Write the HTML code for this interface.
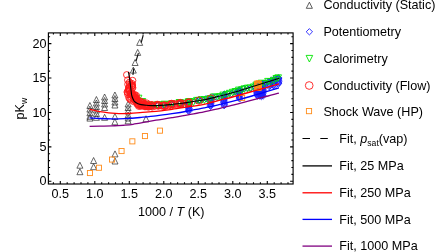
<!DOCTYPE html>
<html><head><meta charset="utf-8"><title>pKw</title>
<style>
html,body{margin:0;padding:0;background:#fff;}
body{width:448px;height:252px;overflow:hidden;}
svg{display:block;}
text{font-family:"Liberation Sans",Arial,sans-serif;font-size:12.6px;fill:#000;}
</style></head><body>
<svg width="448" height="252" viewBox="0 0 448 252">
<rect width="448" height="252" fill="#fff"/>

<g id="static">
<path d="M89.9 102.5 L92.9 108.5 L86.9 108.5 Z" fill="none" stroke="#222" stroke-width="0.68"/>
<path d="M89.9 106.1 L92.9 112.1 L86.9 112.1 Z" fill="none" stroke="#222" stroke-width="0.68"/>
<path d="M89.9 109.8 L92.9 115.8 L86.9 115.8 Z" fill="none" stroke="#222" stroke-width="0.68"/>
<path d="M89.9 113.3 L92.9 119.3 L86.9 119.3 Z" fill="none" stroke="#222" stroke-width="0.68"/>
<path d="M89.9 115.1 L92.9 121.1 L86.9 121.1 Z" fill="none" stroke="#222" stroke-width="0.68"/>
<path d="M96.4 96.5 L99.4 102.5 L93.4 102.5 Z" fill="none" stroke="#222" stroke-width="0.68"/>
<path d="M96.4 100.0 L99.4 106.0 L93.4 106.0 Z" fill="none" stroke="#222" stroke-width="0.68"/>
<path d="M96.4 103.5 L99.4 109.5 L93.4 109.5 Z" fill="none" stroke="#222" stroke-width="0.68"/>
<path d="M96.4 107.0 L99.4 113.0 L93.4 113.0 Z" fill="none" stroke="#222" stroke-width="0.68"/>
<path d="M96.4 110.5 L99.4 116.5 L93.4 116.5 Z" fill="none" stroke="#222" stroke-width="0.68"/>
<path d="M96.4 114.3 L99.4 120.3 L93.4 120.3 Z" fill="none" stroke="#222" stroke-width="0.68"/>
<path d="M104.6 94.0 L107.6 100.0 L101.6 100.0 Z" fill="none" stroke="#222" stroke-width="0.68"/>
<path d="M104.6 97.5 L107.6 103.5 L101.6 103.5 Z" fill="none" stroke="#222" stroke-width="0.68"/>
<path d="M104.6 101.0 L107.6 107.0 L101.6 107.0 Z" fill="none" stroke="#222" stroke-width="0.68"/>
<path d="M104.6 104.5 L107.6 110.5 L101.6 110.5 Z" fill="none" stroke="#222" stroke-width="0.68"/>
<path d="M104.6 114.3 L107.6 120.3 L101.6 120.3 Z" fill="none" stroke="#222" stroke-width="0.68"/>
<path d="M114.9 92.0 L117.9 98.0 L111.9 98.0 Z" fill="none" stroke="#222" stroke-width="0.68"/>
<path d="M114.9 95.5 L117.9 101.5 L111.9 101.5 Z" fill="none" stroke="#222" stroke-width="0.68"/>
<path d="M114.9 99.0 L117.9 105.0 L111.9 105.0 Z" fill="none" stroke="#222" stroke-width="0.68"/>
<path d="M114.9 102.0 L117.9 108.0 L111.9 108.0 Z" fill="none" stroke="#222" stroke-width="0.68"/>
<path d="M114.9 113.5 L117.9 119.5 L111.9 119.5 Z" fill="none" stroke="#222" stroke-width="0.68"/>
<path d="M114.9 118.8 L117.9 124.8 L111.9 124.8 Z" fill="none" stroke="#222" stroke-width="0.68"/>
<path d="M128.1 101.0 L131.1 107.0 L125.1 107.0 Z" fill="none" stroke="#222" stroke-width="0.68"/>
<path d="M128.1 104.5 L131.1 110.5 L125.1 110.5 Z" fill="none" stroke="#222" stroke-width="0.68"/>
<path d="M128.1 108.0 L131.1 114.0 L125.1 114.0 Z" fill="none" stroke="#222" stroke-width="0.68"/>
<path d="M128.1 112.0 L131.1 118.0 L125.1 118.0 Z" fill="none" stroke="#222" stroke-width="0.68"/>
<path d="M128.1 115.0 L131.1 121.0 L125.1 121.0 Z" fill="none" stroke="#222" stroke-width="0.68"/>
<path d="M128.1 117.8 L131.1 123.8 L125.1 123.8 Z" fill="none" stroke="#222" stroke-width="0.68"/>
<path d="M139.7 39.4 L142.7 45.4 L136.7 45.4 Z" fill="none" stroke="#222" stroke-width="0.68"/>
<path d="M137.7 49.4 L140.7 55.4 L134.7 55.4 Z" fill="none" stroke="#222" stroke-width="0.68"/>
<path d="M135.1 59.5 L138.1 65.5 L132.1 65.5 Z" fill="none" stroke="#222" stroke-width="0.68"/>
<path d="M133.3 67.1 L136.3 73.1 L130.3 73.1 Z" fill="none" stroke="#222" stroke-width="0.68"/>
<path d="M146.0 115.8 L149.0 121.8 L143.0 121.8 Z" fill="none" stroke="#222" stroke-width="0.68"/>
<path d="M79.9 162.2 L82.9 168.2 L76.9 168.2 Z" fill="none" stroke="#222" stroke-width="0.68"/>
<path d="M79.9 168.7 L82.9 174.7 L76.9 174.7 Z" fill="none" stroke="#222" stroke-width="0.68"/>
<path d="M93.6 157.5 L96.6 163.5 L90.6 163.5 Z" fill="none" stroke="#222" stroke-width="0.68"/>
<path d="M93.6 163.7 L96.6 169.7 L90.6 169.7 Z" fill="none" stroke="#222" stroke-width="0.68"/>
<path d="M115.0 150.9 L118.0 156.9 L112.0 156.9 Z" fill="none" stroke="#222" stroke-width="0.68"/>
<path d="M115.0 158.0 L118.0 164.0 L112.0 164.0 Z" fill="none" stroke="#222" stroke-width="0.68"/>
</g>
<g id="pot">
<path d="M278.3 74.8 L281.5 78.0 L278.3 81.2 L275.1 78.0 Z" fill="none" stroke="#1c1cff" stroke-width="0.9"/>
<path d="M278.5 74.7 L281.7 77.9 L278.5 81.1 L275.3 77.9 Z" fill="none" stroke="#1c1cff" stroke-width="0.9"/>
<path d="M278.4 75.2 L281.6 78.4 L278.4 81.6 L275.2 78.4 Z" fill="none" stroke="#1c1cff" stroke-width="0.9"/>
<path d="M256.9 82.0 L260.1 85.2 L256.9 88.4 L253.7 85.2 Z" fill="none" stroke="#1c1cff" stroke-width="0.9"/>
<path d="M256.9 81.9 L260.1 85.1 L256.9 88.3 L253.7 85.1 Z" fill="none" stroke="#1c1cff" stroke-width="0.9"/>
<path d="M256.9 81.3 L260.1 84.5 L256.9 87.7 L253.7 84.5 Z" fill="none" stroke="#1c1cff" stroke-width="0.9"/>
<path d="M239.3 88.0 L242.5 91.2 L239.3 94.4 L236.1 91.2 Z" fill="none" stroke="#1c1cff" stroke-width="0.9"/>
<path d="M239.0 87.0 L242.2 90.2 L239.0 93.4 L235.8 90.2 Z" fill="none" stroke="#1c1cff" stroke-width="0.9"/>
<path d="M239.4 88.2 L242.6 91.4 L239.4 94.6 L236.2 91.4 Z" fill="none" stroke="#1c1cff" stroke-width="0.9"/>
<path d="M224.1 91.6 L227.3 94.8 L224.1 98.0 L220.9 94.8 Z" fill="none" stroke="#1c1cff" stroke-width="0.9"/>
<path d="M224.4 91.0 L227.6 94.2 L224.4 97.4 L221.2 94.2 Z" fill="none" stroke="#1c1cff" stroke-width="0.9"/>
<path d="M224.3 91.4 L227.5 94.6 L224.3 97.8 L221.1 94.6 Z" fill="none" stroke="#1c1cff" stroke-width="0.9"/>
<path d="M210.4 94.4 L213.6 97.6 L210.4 100.8 L207.2 97.6 Z" fill="none" stroke="#1c1cff" stroke-width="0.9"/>
<path d="M210.6 95.5 L213.8 98.7 L210.6 101.9 L207.4 98.7 Z" fill="none" stroke="#1c1cff" stroke-width="0.9"/>
<path d="M210.5 95.1 L213.7 98.3 L210.5 101.5 L207.3 98.3 Z" fill="none" stroke="#1c1cff" stroke-width="0.9"/>
<path d="M199.2 97.2 L202.4 100.4 L199.2 103.6 L196.0 100.4 Z" fill="none" stroke="#1c1cff" stroke-width="0.9"/>
<path d="M199.1 96.7 L202.3 99.9 L199.1 103.1 L195.9 99.9 Z" fill="none" stroke="#1c1cff" stroke-width="0.9"/>
<path d="M198.7 96.9 L201.9 100.1 L198.7 103.3 L195.5 100.1 Z" fill="none" stroke="#1c1cff" stroke-width="0.9"/>
<path d="M189.0 98.9 L192.2 102.1 L189.0 105.3 L185.8 102.1 Z" fill="none" stroke="#1c1cff" stroke-width="0.9"/>
<path d="M188.7 99.2 L191.9 102.4 L188.7 105.6 L185.5 102.4 Z" fill="none" stroke="#1c1cff" stroke-width="0.9"/>
<path d="M188.8 98.7 L192.0 101.9 L188.8 105.1 L185.6 101.9 Z" fill="none" stroke="#1c1cff" stroke-width="0.9"/>
<path d="M180.0 100.6 L183.2 103.8 L180.0 107.0 L176.8 103.8 Z" fill="none" stroke="#1c1cff" stroke-width="0.9"/>
<path d="M179.6 100.4 L182.8 103.6 L179.6 106.8 L176.4 103.6 Z" fill="none" stroke="#1c1cff" stroke-width="0.9"/>
<path d="M179.8 100.9 L183.0 104.1 L179.8 107.3 L176.6 104.1 Z" fill="none" stroke="#1c1cff" stroke-width="0.9"/>
<path d="M171.8 100.9 L175.0 104.1 L171.8 107.3 L168.6 104.1 Z" fill="none" stroke="#1c1cff" stroke-width="0.9"/>
<path d="M172.0 100.6 L175.2 103.8 L172.0 107.0 L168.8 103.8 Z" fill="none" stroke="#1c1cff" stroke-width="0.9"/>
<path d="M171.6 101.6 L174.8 104.8 L171.6 108.0 L168.4 104.8 Z" fill="none" stroke="#1c1cff" stroke-width="0.9"/>
<path d="M164.0 101.8 L167.2 105.0 L164.0 108.2 L160.8 105.0 Z" fill="none" stroke="#1c1cff" stroke-width="0.9"/>
<path d="M163.9 102.1 L167.1 105.3 L163.9 108.5 L160.7 105.3 Z" fill="none" stroke="#1c1cff" stroke-width="0.9"/>
<path d="M164.5 102.0 L167.7 105.2 L164.5 108.4 L161.3 105.2 Z" fill="none" stroke="#1c1cff" stroke-width="0.9"/>
<path d="M158.0 102.0 L161.2 105.2 L158.0 108.4 L154.8 105.2 Z" fill="none" stroke="#1c1cff" stroke-width="0.9"/>
<path d="M157.8 102.4 L161.0 105.6 L157.8 108.8 L154.6 105.6 Z" fill="none" stroke="#1c1cff" stroke-width="0.9"/>
<path d="M157.8 102.2 L161.0 105.4 L157.8 108.6 L154.6 105.4 Z" fill="none" stroke="#1c1cff" stroke-width="0.9"/>
<path d="M151.9 103.1 L155.1 106.3 L151.9 109.5 L148.7 106.3 Z" fill="none" stroke="#1c1cff" stroke-width="0.9"/>
<path d="M151.7 102.6 L154.9 105.8 L151.7 109.0 L148.5 105.8 Z" fill="none" stroke="#1c1cff" stroke-width="0.9"/>
<path d="M151.3 102.7 L154.5 105.9 L151.3 109.1 L148.1 105.9 Z" fill="none" stroke="#1c1cff" stroke-width="0.9"/>
<path d="M146.3 102.9 L149.5 106.1 L146.3 109.3 L143.1 106.1 Z" fill="none" stroke="#1c1cff" stroke-width="0.9"/>
<path d="M146.4 101.8 L149.6 105.0 L146.4 108.2 L143.2 105.0 Z" fill="none" stroke="#1c1cff" stroke-width="0.9"/>
<path d="M146.1 102.4 L149.3 105.6 L146.1 108.8 L142.9 105.6 Z" fill="none" stroke="#1c1cff" stroke-width="0.9"/>
<path d="M196.0 97.1 L199.2 100.3 L196.0 103.5 L192.8 100.3 Z" fill="none" stroke="#1c1cff" stroke-width="0.9"/>
<path d="M199.3 96.9 L202.5 100.1 L199.3 103.3 L196.1 100.1 Z" fill="none" stroke="#1c1cff" stroke-width="0.9"/>
<path d="M202.1 96.2 L205.3 99.4 L202.1 102.6 L198.9 99.4 Z" fill="none" stroke="#1c1cff" stroke-width="0.9"/>
<path d="M206.0 95.6 L209.2 98.8 L206.0 102.0 L202.8 98.8 Z" fill="none" stroke="#1c1cff" stroke-width="0.9"/>
<path d="M209.0 95.3 L212.2 98.5 L209.0 101.7 L205.8 98.5 Z" fill="none" stroke="#1c1cff" stroke-width="0.9"/>
<path d="M212.9 93.8 L216.1 97.0 L212.9 100.2 L209.7 97.0 Z" fill="none" stroke="#1c1cff" stroke-width="0.9"/>
<path d="M216.3 93.9 L219.5 97.1 L216.3 100.3 L213.1 97.1 Z" fill="none" stroke="#1c1cff" stroke-width="0.9"/>
<path d="M220.3 93.4 L223.5 96.6 L220.3 99.8 L217.1 96.6 Z" fill="none" stroke="#1c1cff" stroke-width="0.9"/>
<path d="M224.3 91.4 L227.5 94.6 L224.3 97.8 L221.1 94.6 Z" fill="none" stroke="#1c1cff" stroke-width="0.9"/>
<path d="M227.5 90.6 L230.7 93.8 L227.5 97.0 L224.3 93.8 Z" fill="none" stroke="#1c1cff" stroke-width="0.9"/>
<path d="M231.5 90.6 L234.7 93.8 L231.5 97.0 L228.3 93.8 Z" fill="none" stroke="#1c1cff" stroke-width="0.9"/>
<path d="M234.4 88.5 L237.6 91.7 L234.4 94.9 L231.2 91.7 Z" fill="none" stroke="#1c1cff" stroke-width="0.9"/>
<path d="M237.4 87.7 L240.6 90.9 L237.4 94.1 L234.2 90.9 Z" fill="none" stroke="#1c1cff" stroke-width="0.9"/>
<path d="M240.7 87.3 L243.9 90.5 L240.7 93.7 L237.5 90.5 Z" fill="none" stroke="#1c1cff" stroke-width="0.9"/>
<path d="M243.7 85.3 L246.9 88.5 L243.7 91.7 L240.5 88.5 Z" fill="none" stroke="#1c1cff" stroke-width="0.9"/>
<path d="M247.0 85.0 L250.2 88.2 L247.0 91.4 L243.8 88.2 Z" fill="none" stroke="#1c1cff" stroke-width="0.9"/>
<path d="M250.5 85.0 L253.7 88.2 L250.5 91.4 L247.3 88.2 Z" fill="none" stroke="#1c1cff" stroke-width="0.9"/>
<path d="M254.2 83.0 L257.4 86.2 L254.2 89.4 L251.0 86.2 Z" fill="none" stroke="#1c1cff" stroke-width="0.9"/>
<path d="M257.8 82.2 L261.0 85.4 L257.8 88.6 L254.6 85.4 Z" fill="none" stroke="#1c1cff" stroke-width="0.9"/>
<path d="M260.5 81.8 L263.7 85.0 L260.5 88.2 L257.3 85.0 Z" fill="none" stroke="#1c1cff" stroke-width="0.9"/>
<path d="M264.4 80.5 L267.6 83.7 L264.4 86.9 L261.2 83.7 Z" fill="none" stroke="#1c1cff" stroke-width="0.9"/>
<path d="M268.2 78.4 L271.4 81.6 L268.2 84.8 L265.0 81.6 Z" fill="none" stroke="#1c1cff" stroke-width="0.9"/>
<path d="M271.5 76.9 L274.7 80.1 L271.5 83.3 L268.3 80.1 Z" fill="none" stroke="#1c1cff" stroke-width="0.9"/>
<path d="M275.1 75.7 L278.3 78.9 L275.1 82.1 L271.9 78.9 Z" fill="none" stroke="#1c1cff" stroke-width="0.9"/>
<path d="M277.8 75.1 L281.0 78.3 L277.8 81.5 L274.6 78.3 Z" fill="none" stroke="#1c1cff" stroke-width="0.9"/>
<path d="M188.8 99.1 L192.0 102.3 L188.8 105.5 L185.6 102.3 Z" fill="none" stroke="#1c1cff" stroke-width="0.9"/>
<path d="M188.6 100.0 L191.8 103.2 L188.6 106.4 L185.4 103.2 Z" fill="none" stroke="#1c1cff" stroke-width="0.9"/>
<path d="M188.6 100.9 L191.8 104.1 L188.6 107.3 L185.4 104.1 Z" fill="none" stroke="#1c1cff" stroke-width="0.9"/>
<path d="M188.7 101.8 L191.9 105.0 L188.7 108.2 L185.5 105.0 Z" fill="none" stroke="#1c1cff" stroke-width="0.9"/>
<path d="M188.6 102.7 L191.8 105.9 L188.6 109.1 L185.4 105.9 Z" fill="none" stroke="#1c1cff" stroke-width="0.9"/>
<path d="M188.8 103.6 L192.0 106.8 L188.8 110.0 L185.6 106.8 Z" fill="none" stroke="#1c1cff" stroke-width="0.9"/>
<path d="M188.6 104.5 L191.8 107.7 L188.6 110.9 L185.4 107.7 Z" fill="none" stroke="#1c1cff" stroke-width="0.9"/>
<path d="M189.1 105.4 L192.3 108.6 L189.1 111.8 L185.9 108.6 Z" fill="none" stroke="#1c1cff" stroke-width="0.9"/>
<path d="M188.9 106.3 L192.1 109.5 L188.9 112.7 L185.7 109.5 Z" fill="none" stroke="#1c1cff" stroke-width="0.9"/>
<path d="M188.7 107.2 L191.9 110.4 L188.7 113.6 L185.5 110.4 Z" fill="none" stroke="#1c1cff" stroke-width="0.9"/>
<path d="M188.7 108.1 L191.9 111.3 L188.7 114.5 L185.5 111.3 Z" fill="none" stroke="#1c1cff" stroke-width="0.9"/>
<path d="M210.6 95.0 L213.8 98.2 L210.6 101.4 L207.4 98.2 Z" fill="none" stroke="#1c1cff" stroke-width="0.9"/>
<path d="M210.6 95.9 L213.8 99.1 L210.6 102.3 L207.4 99.1 Z" fill="none" stroke="#1c1cff" stroke-width="0.9"/>
<path d="M210.5 96.8 L213.7 100.0 L210.5 103.2 L207.3 100.0 Z" fill="none" stroke="#1c1cff" stroke-width="0.9"/>
<path d="M210.9 97.7 L214.1 100.9 L210.9 104.1 L207.7 100.9 Z" fill="none" stroke="#1c1cff" stroke-width="0.9"/>
<path d="M211.0 98.6 L214.2 101.8 L211.0 105.0 L207.8 101.8 Z" fill="none" stroke="#1c1cff" stroke-width="0.9"/>
<path d="M210.7 99.5 L213.9 102.7 L210.7 105.9 L207.5 102.7 Z" fill="none" stroke="#1c1cff" stroke-width="0.9"/>
<path d="M210.7 100.4 L213.9 103.6 L210.7 106.8 L207.5 103.6 Z" fill="none" stroke="#1c1cff" stroke-width="0.9"/>
<path d="M210.5 101.3 L213.7 104.5 L210.5 107.7 L207.3 104.5 Z" fill="none" stroke="#1c1cff" stroke-width="0.9"/>
<path d="M210.5 102.2 L213.7 105.4 L210.5 108.6 L207.3 105.4 Z" fill="none" stroke="#1c1cff" stroke-width="0.9"/>
<path d="M210.6 103.1 L213.8 106.3 L210.6 109.5 L207.4 106.3 Z" fill="none" stroke="#1c1cff" stroke-width="0.9"/>
<path d="M223.8 91.7 L227.0 94.9 L223.8 98.1 L220.6 94.9 Z" fill="none" stroke="#1c1cff" stroke-width="0.9"/>
<path d="M224.2 92.6 L227.4 95.8 L224.2 99.0 L221.0 95.8 Z" fill="none" stroke="#1c1cff" stroke-width="0.9"/>
<path d="M223.8 93.5 L227.0 96.7 L223.8 99.9 L220.6 96.7 Z" fill="none" stroke="#1c1cff" stroke-width="0.9"/>
<path d="M223.7 94.4 L226.9 97.6 L223.7 100.8 L220.5 97.6 Z" fill="none" stroke="#1c1cff" stroke-width="0.9"/>
<path d="M224.3 95.3 L227.5 98.5 L224.3 101.7 L221.1 98.5 Z" fill="none" stroke="#1c1cff" stroke-width="0.9"/>
<path d="M224.0 96.2 L227.2 99.4 L224.0 102.6 L220.8 99.4 Z" fill="none" stroke="#1c1cff" stroke-width="0.9"/>
<path d="M223.8 97.1 L227.0 100.3 L223.8 103.5 L220.6 100.3 Z" fill="none" stroke="#1c1cff" stroke-width="0.9"/>
<path d="M224.0 98.0 L227.2 101.2 L224.0 104.4 L220.8 101.2 Z" fill="none" stroke="#1c1cff" stroke-width="0.9"/>
<path d="M223.7 98.9 L226.9 102.1 L223.7 105.3 L220.5 102.1 Z" fill="none" stroke="#1c1cff" stroke-width="0.9"/>
<path d="M224.0 99.8 L227.2 103.0 L224.0 106.2 L220.8 103.0 Z" fill="none" stroke="#1c1cff" stroke-width="0.9"/>
<path d="M224.3 100.7 L227.5 103.9 L224.3 107.1 L221.1 103.9 Z" fill="none" stroke="#1c1cff" stroke-width="0.9"/>
<path d="M224.2 101.6 L227.4 104.8 L224.2 108.0 L221.0 104.8 Z" fill="none" stroke="#1c1cff" stroke-width="0.9"/>
<path d="M224.1 102.5 L227.3 105.7 L224.1 108.9 L220.9 105.7 Z" fill="none" stroke="#1c1cff" stroke-width="0.9"/>
<path d="M239.2 87.5 L242.4 90.7 L239.2 93.9 L236.0 90.7 Z" fill="none" stroke="#1c1cff" stroke-width="0.9"/>
<path d="M239.2 88.4 L242.4 91.6 L239.2 94.8 L236.0 91.6 Z" fill="none" stroke="#1c1cff" stroke-width="0.9"/>
<path d="M239.1 89.3 L242.3 92.5 L239.1 95.7 L235.9 92.5 Z" fill="none" stroke="#1c1cff" stroke-width="0.9"/>
<path d="M239.5 90.2 L242.7 93.4 L239.5 96.6 L236.3 93.4 Z" fill="none" stroke="#1c1cff" stroke-width="0.9"/>
<path d="M239.3 91.1 L242.5 94.3 L239.3 97.5 L236.1 94.3 Z" fill="none" stroke="#1c1cff" stroke-width="0.9"/>
<path d="M239.5 92.0 L242.7 95.2 L239.5 98.4 L236.3 95.2 Z" fill="none" stroke="#1c1cff" stroke-width="0.9"/>
<path d="M239.2 92.9 L242.4 96.1 L239.2 99.3 L236.0 96.1 Z" fill="none" stroke="#1c1cff" stroke-width="0.9"/>
<path d="M239.2 93.8 L242.4 97.0 L239.2 100.2 L236.0 97.0 Z" fill="none" stroke="#1c1cff" stroke-width="0.9"/>
<path d="M239.5 94.7 L242.7 97.9 L239.5 101.1 L236.3 97.9 Z" fill="none" stroke="#1c1cff" stroke-width="0.9"/>
<path d="M239.6 95.6 L242.8 98.8 L239.6 102.0 L236.4 98.8 Z" fill="none" stroke="#1c1cff" stroke-width="0.9"/>
<path d="M257.4 82.0 L260.6 85.2 L257.4 88.4 L254.2 85.2 Z" fill="none" stroke="#1c1cff" stroke-width="0.9"/>
<path d="M257.4 82.9 L260.6 86.1 L257.4 89.3 L254.2 86.1 Z" fill="none" stroke="#1c1cff" stroke-width="0.9"/>
<path d="M257.4 83.8 L260.6 87.0 L257.4 90.2 L254.2 87.0 Z" fill="none" stroke="#1c1cff" stroke-width="0.9"/>
<path d="M257.4 84.7 L260.6 87.9 L257.4 91.1 L254.2 87.9 Z" fill="none" stroke="#1c1cff" stroke-width="0.9"/>
<path d="M257.1 85.6 L260.3 88.8 L257.1 92.0 L253.9 88.8 Z" fill="none" stroke="#1c1cff" stroke-width="0.9"/>
<path d="M257.2 86.5 L260.4 89.7 L257.2 92.9 L254.0 89.7 Z" fill="none" stroke="#1c1cff" stroke-width="0.9"/>
<path d="M257.1 87.4 L260.3 90.6 L257.1 93.8 L253.9 90.6 Z" fill="none" stroke="#1c1cff" stroke-width="0.9"/>
<path d="M256.9 88.3 L260.1 91.5 L256.9 94.7 L253.7 91.5 Z" fill="none" stroke="#1c1cff" stroke-width="0.9"/>
<path d="M256.9 89.2 L260.1 92.4 L256.9 95.6 L253.7 92.4 Z" fill="none" stroke="#1c1cff" stroke-width="0.9"/>
<path d="M257.1 90.1 L260.3 93.3 L257.1 96.5 L253.9 93.3 Z" fill="none" stroke="#1c1cff" stroke-width="0.9"/>
<path d="M257.1 91.0 L260.3 94.2 L257.1 97.4 L253.9 94.2 Z" fill="none" stroke="#1c1cff" stroke-width="0.9"/>
<path d="M257.3 91.9 L260.5 95.1 L257.3 98.3 L254.1 95.1 Z" fill="none" stroke="#1c1cff" stroke-width="0.9"/>
<path d="M257.5 92.8 L260.7 96.0 L257.5 99.2 L254.3 96.0 Z" fill="none" stroke="#1c1cff" stroke-width="0.9"/>
<path d="M259.5 81.2 L262.7 84.4 L259.5 87.6 L256.3 84.4 Z" fill="none" stroke="#1c1cff" stroke-width="0.9"/>
<path d="M259.8 82.1 L263.0 85.3 L259.8 88.5 L256.6 85.3 Z" fill="none" stroke="#1c1cff" stroke-width="0.9"/>
<path d="M259.9 83.0 L263.1 86.2 L259.9 89.4 L256.7 86.2 Z" fill="none" stroke="#1c1cff" stroke-width="0.9"/>
<path d="M259.9 83.9 L263.1 87.1 L259.9 90.3 L256.7 87.1 Z" fill="none" stroke="#1c1cff" stroke-width="0.9"/>
<path d="M259.5 84.8 L262.7 88.0 L259.5 91.2 L256.3 88.0 Z" fill="none" stroke="#1c1cff" stroke-width="0.9"/>
<path d="M259.4 85.7 L262.6 88.9 L259.4 92.1 L256.2 88.9 Z" fill="none" stroke="#1c1cff" stroke-width="0.9"/>
<path d="M259.4 86.6 L262.6 89.8 L259.4 93.0 L256.2 89.8 Z" fill="none" stroke="#1c1cff" stroke-width="0.9"/>
<path d="M259.4 87.5 L262.6 90.7 L259.4 93.9 L256.2 90.7 Z" fill="none" stroke="#1c1cff" stroke-width="0.9"/>
<path d="M259.4 88.4 L262.6 91.6 L259.4 94.8 L256.2 91.6 Z" fill="none" stroke="#1c1cff" stroke-width="0.9"/>
<path d="M259.7 89.3 L262.9 92.5 L259.7 95.7 L256.5 92.5 Z" fill="none" stroke="#1c1cff" stroke-width="0.9"/>
<path d="M259.8 90.2 L263.0 93.4 L259.8 96.6 L256.6 93.4 Z" fill="none" stroke="#1c1cff" stroke-width="0.9"/>
<path d="M259.8 91.1 L263.0 94.3 L259.8 97.5 L256.6 94.3 Z" fill="none" stroke="#1c1cff" stroke-width="0.9"/>
<path d="M259.6 92.0 L262.8 95.2 L259.6 98.4 L256.4 95.2 Z" fill="none" stroke="#1c1cff" stroke-width="0.9"/>
<path d="M259.7 92.9 L262.9 96.1 L259.7 99.3 L256.5 96.1 Z" fill="none" stroke="#1c1cff" stroke-width="0.9"/>
<path d="M261.4 80.7 L264.6 83.9 L261.4 87.1 L258.2 83.9 Z" fill="none" stroke="#1c1cff" stroke-width="0.9"/>
<path d="M260.9 81.6 L264.1 84.8 L260.9 88.0 L257.7 84.8 Z" fill="none" stroke="#1c1cff" stroke-width="0.9"/>
<path d="M261.3 82.5 L264.5 85.7 L261.3 88.9 L258.1 85.7 Z" fill="none" stroke="#1c1cff" stroke-width="0.9"/>
<path d="M261.4 83.4 L264.6 86.6 L261.4 89.8 L258.2 86.6 Z" fill="none" stroke="#1c1cff" stroke-width="0.9"/>
<path d="M261.3 84.3 L264.5 87.5 L261.3 90.7 L258.1 87.5 Z" fill="none" stroke="#1c1cff" stroke-width="0.9"/>
<path d="M261.3 85.2 L264.5 88.4 L261.3 91.6 L258.1 88.4 Z" fill="none" stroke="#1c1cff" stroke-width="0.9"/>
<path d="M261.2 86.1 L264.4 89.3 L261.2 92.5 L258.0 89.3 Z" fill="none" stroke="#1c1cff" stroke-width="0.9"/>
<path d="M261.0 87.0 L264.2 90.2 L261.0 93.4 L257.8 90.2 Z" fill="none" stroke="#1c1cff" stroke-width="0.9"/>
<path d="M261.3 87.9 L264.5 91.1 L261.3 94.3 L258.1 91.1 Z" fill="none" stroke="#1c1cff" stroke-width="0.9"/>
<path d="M261.1 88.8 L264.3 92.0 L261.1 95.2 L257.9 92.0 Z" fill="none" stroke="#1c1cff" stroke-width="0.9"/>
<path d="M261.4 89.7 L264.6 92.9 L261.4 96.1 L258.2 92.9 Z" fill="none" stroke="#1c1cff" stroke-width="0.9"/>
<path d="M261.5 90.6 L264.7 93.8 L261.5 97.0 L258.3 93.8 Z" fill="none" stroke="#1c1cff" stroke-width="0.9"/>
<path d="M261.1 91.5 L264.3 94.7 L261.1 97.9 L257.9 94.7 Z" fill="none" stroke="#1c1cff" stroke-width="0.9"/>
<path d="M261.1 92.4 L264.3 95.6 L261.1 98.8 L257.9 95.6 Z" fill="none" stroke="#1c1cff" stroke-width="0.9"/>
<path d="M261.4 93.3 L264.6 96.5 L261.4 99.7 L258.2 96.5 Z" fill="none" stroke="#1c1cff" stroke-width="0.9"/>
<path d="M262.9 80.2 L266.1 83.4 L262.9 86.6 L259.7 83.4 Z" fill="none" stroke="#1c1cff" stroke-width="0.9"/>
<path d="M262.6 81.1 L265.8 84.3 L262.6 87.5 L259.4 84.3 Z" fill="none" stroke="#1c1cff" stroke-width="0.9"/>
<path d="M262.6 82.0 L265.8 85.2 L262.6 88.4 L259.4 85.2 Z" fill="none" stroke="#1c1cff" stroke-width="0.9"/>
<path d="M262.6 82.9 L265.8 86.1 L262.6 89.3 L259.4 86.1 Z" fill="none" stroke="#1c1cff" stroke-width="0.9"/>
<path d="M263.0 83.8 L266.2 87.0 L263.0 90.2 L259.8 87.0 Z" fill="none" stroke="#1c1cff" stroke-width="0.9"/>
<path d="M263.0 84.7 L266.2 87.9 L263.0 91.1 L259.8 87.9 Z" fill="none" stroke="#1c1cff" stroke-width="0.9"/>
<path d="M262.6 85.6 L265.8 88.8 L262.6 92.0 L259.4 88.8 Z" fill="none" stroke="#1c1cff" stroke-width="0.9"/>
<path d="M263.0 86.5 L266.2 89.7 L263.0 92.9 L259.8 89.7 Z" fill="none" stroke="#1c1cff" stroke-width="0.9"/>
<path d="M263.1 87.4 L266.3 90.6 L263.1 93.8 L259.9 90.6 Z" fill="none" stroke="#1c1cff" stroke-width="0.9"/>
<path d="M262.9 88.3 L266.1 91.5 L262.9 94.7 L259.7 91.5 Z" fill="none" stroke="#1c1cff" stroke-width="0.9"/>
<path d="M262.7 89.2 L265.9 92.4 L262.7 95.6 L259.5 92.4 Z" fill="none" stroke="#1c1cff" stroke-width="0.9"/>
<path d="M262.8 90.1 L266.0 93.3 L262.8 96.5 L259.6 93.3 Z" fill="none" stroke="#1c1cff" stroke-width="0.9"/>
<path d="M262.6 91.0 L265.8 94.2 L262.6 97.4 L259.4 94.2 Z" fill="none" stroke="#1c1cff" stroke-width="0.9"/>
<path d="M262.5 91.9 L265.7 95.1 L262.5 98.3 L259.3 95.1 Z" fill="none" stroke="#1c1cff" stroke-width="0.9"/>
<path d="M263.1 92.8 L266.3 96.0 L263.1 99.2 L259.9 96.0 Z" fill="none" stroke="#1c1cff" stroke-width="0.9"/>
<path d="M269.6 78.1 L272.8 81.3 L269.6 84.5 L266.4 81.3 Z" fill="none" stroke="#1c1cff" stroke-width="0.9"/>
<path d="M269.5 79.0 L272.7 82.2 L269.5 85.4 L266.3 82.2 Z" fill="none" stroke="#1c1cff" stroke-width="0.9"/>
<path d="M269.7 79.9 L272.9 83.1 L269.7 86.3 L266.5 83.1 Z" fill="none" stroke="#1c1cff" stroke-width="0.9"/>
<path d="M269.4 80.8 L272.6 84.0 L269.4 87.2 L266.2 84.0 Z" fill="none" stroke="#1c1cff" stroke-width="0.9"/>
<path d="M269.7 81.7 L272.9 84.9 L269.7 88.1 L266.5 84.9 Z" fill="none" stroke="#1c1cff" stroke-width="0.9"/>
<path d="M269.7 82.6 L272.9 85.8 L269.7 89.0 L266.5 85.8 Z" fill="none" stroke="#1c1cff" stroke-width="0.9"/>
<path d="M269.3 83.5 L272.5 86.7 L269.3 89.9 L266.1 86.7 Z" fill="none" stroke="#1c1cff" stroke-width="0.9"/>
<path d="M273.7 76.8 L276.9 80.0 L273.7 83.2 L270.5 80.0 Z" fill="none" stroke="#1c1cff" stroke-width="0.9"/>
<path d="M273.7 77.7 L276.9 80.9 L273.7 84.1 L270.5 80.9 Z" fill="none" stroke="#1c1cff" stroke-width="0.9"/>
<path d="M273.7 78.6 L276.9 81.8 L273.7 85.0 L270.5 81.8 Z" fill="none" stroke="#1c1cff" stroke-width="0.9"/>
<path d="M273.9 79.5 L277.1 82.7 L273.9 85.9 L270.7 82.7 Z" fill="none" stroke="#1c1cff" stroke-width="0.9"/>
<path d="M273.7 80.4 L276.9 83.6 L273.7 86.8 L270.5 83.6 Z" fill="none" stroke="#1c1cff" stroke-width="0.9"/>
<path d="M273.8 81.3 L277.0 84.5 L273.8 87.7 L270.6 84.5 Z" fill="none" stroke="#1c1cff" stroke-width="0.9"/>
<path d="M273.6 82.2 L276.8 85.4 L273.6 88.6 L270.4 85.4 Z" fill="none" stroke="#1c1cff" stroke-width="0.9"/>
<path d="M274.1 83.1 L277.3 86.3 L274.1 89.5 L270.9 86.3 Z" fill="none" stroke="#1c1cff" stroke-width="0.9"/>
<path d="M278.3 75.4 L281.5 78.6 L278.3 81.8 L275.1 78.6 Z" fill="none" stroke="#1c1cff" stroke-width="0.9"/>
<path d="M278.4 76.3 L281.6 79.5 L278.4 82.7 L275.2 79.5 Z" fill="none" stroke="#1c1cff" stroke-width="0.9"/>
<path d="M278.5 77.2 L281.7 80.4 L278.5 83.6 L275.3 80.4 Z" fill="none" stroke="#1c1cff" stroke-width="0.9"/>
<path d="M278.7 78.1 L281.9 81.3 L278.7 84.5 L275.5 81.3 Z" fill="none" stroke="#1c1cff" stroke-width="0.9"/>
<path d="M278.4 79.0 L281.6 82.2 L278.4 85.4 L275.2 82.2 Z" fill="none" stroke="#1c1cff" stroke-width="0.9"/>
<path d="M278.7 79.9 L281.9 83.1 L278.7 86.3 L275.5 83.1 Z" fill="none" stroke="#1c1cff" stroke-width="0.9"/>
<path d="M278.4 80.8 L281.6 84.0 L278.4 87.2 L275.2 84.0 Z" fill="none" stroke="#1c1cff" stroke-width="0.9"/>
</g>
<g id="cal">
<path d="M188.9 105.5 L192.2 98.9 L185.6 98.9 Z" fill="none" stroke="#00e600" stroke-width="0.9"/>
<path d="M188.5 105.4 L191.8 98.8 L185.2 98.8 Z" fill="none" stroke="#00e600" stroke-width="0.9"/>
<path d="M179.5 106.1 L182.8 99.5 L176.2 99.5 Z" fill="none" stroke="#00e600" stroke-width="0.9"/>
<path d="M180.0 106.3 L183.3 99.7 L176.7 99.7 Z" fill="none" stroke="#00e600" stroke-width="0.9"/>
<path d="M171.6 107.9 L174.9 101.3 L168.3 101.3 Z" fill="none" stroke="#00e600" stroke-width="0.9"/>
<path d="M171.7 107.4 L175.0 100.8 L168.4 100.8 Z" fill="none" stroke="#00e600" stroke-width="0.9"/>
<path d="M164.3 108.3 L167.6 101.7 L161.0 101.7 Z" fill="none" stroke="#00e600" stroke-width="0.9"/>
<path d="M164.5 107.8 L167.8 101.2 L161.2 101.2 Z" fill="none" stroke="#00e600" stroke-width="0.9"/>
<path d="M157.7 108.4 L161.0 101.8 L154.4 101.8 Z" fill="none" stroke="#00e600" stroke-width="0.9"/>
<path d="M157.5 109.0 L160.8 102.4 L154.2 102.4 Z" fill="none" stroke="#00e600" stroke-width="0.9"/>
<path d="M151.7 108.9 L155.0 102.3 L148.4 102.3 Z" fill="none" stroke="#00e600" stroke-width="0.9"/>
<path d="M151.9 109.3 L155.2 102.7 L148.6 102.7 Z" fill="none" stroke="#00e600" stroke-width="0.9"/>
<path d="M146.1 108.6 L149.4 102.0 L142.8 102.0 Z" fill="none" stroke="#00e600" stroke-width="0.9"/>
<path d="M146.2 108.5 L149.5 101.9 L142.9 101.9 Z" fill="none" stroke="#00e600" stroke-width="0.9"/>
<path d="M141.3 107.8 L144.6 101.2 L138.0 101.2 Z" fill="none" stroke="#00e600" stroke-width="0.9"/>
<path d="M141.2 107.8 L144.5 101.2 L137.9 101.2 Z" fill="none" stroke="#00e600" stroke-width="0.9"/>
<path d="M138.6 101.8 L141.9 95.2 L135.3 95.2 Z" fill="none" stroke="#00e600" stroke-width="0.9"/>
<path d="M142.4 105.1 L145.7 98.5 L139.1 98.5 Z" fill="none" stroke="#00e600" stroke-width="0.9"/>
<path d="M183.0 107.3 L186.3 100.7 L179.7 100.7 Z" fill="none" stroke="#00e600" stroke-width="0.9"/>
<path d="M186.4 106.7 L189.7 100.1 L183.1 100.1 Z" fill="none" stroke="#00e600" stroke-width="0.9"/>
<path d="M190.1 105.2 L193.4 98.6 L186.8 98.6 Z" fill="none" stroke="#00e600" stroke-width="0.9"/>
<path d="M193.3 105.8 L196.6 99.2 L190.0 99.2 Z" fill="none" stroke="#00e600" stroke-width="0.9"/>
<path d="M196.9 104.0 L200.2 97.4 L193.6 97.4 Z" fill="none" stroke="#00e600" stroke-width="0.9"/>
<path d="M199.4 104.0 L202.7 97.4 L196.1 97.4 Z" fill="none" stroke="#00e600" stroke-width="0.9"/>
<path d="M201.9 103.3 L205.2 96.7 L198.6 96.7 Z" fill="none" stroke="#00e600" stroke-width="0.9"/>
<path d="M204.4 103.5 L207.7 96.9 L201.1 96.9 Z" fill="none" stroke="#00e600" stroke-width="0.9"/>
<path d="M207.9 103.0 L211.2 96.4 L204.6 96.4 Z" fill="none" stroke="#00e600" stroke-width="0.9"/>
<path d="M210.5 102.1 L213.8 95.5 L207.2 95.5 Z" fill="none" stroke="#00e600" stroke-width="0.9"/>
<path d="M213.9 100.5 L217.2 93.9 L210.6 93.9 Z" fill="none" stroke="#00e600" stroke-width="0.9"/>
<path d="M217.5 100.8 L220.8 94.2 L214.2 94.2 Z" fill="none" stroke="#00e600" stroke-width="0.9"/>
<path d="M220.2 100.2 L223.5 93.6 L216.9 93.6 Z" fill="none" stroke="#00e600" stroke-width="0.9"/>
<path d="M223.2 98.7 L226.5 92.1 L219.9 92.1 Z" fill="none" stroke="#00e600" stroke-width="0.9"/>
<path d="M227.0 98.2 L230.3 91.6 L223.7 91.6 Z" fill="none" stroke="#00e600" stroke-width="0.9"/>
<path d="M229.6 96.9 L232.9 90.3 L226.3 90.3 Z" fill="none" stroke="#00e600" stroke-width="0.9"/>
<path d="M232.7 95.9 L236.0 89.3 L229.4 89.3 Z" fill="none" stroke="#00e600" stroke-width="0.9"/>
<path d="M235.4 95.1 L238.7 88.5 L232.1 88.5 Z" fill="none" stroke="#00e600" stroke-width="0.9"/>
<path d="M238.8 93.7 L242.1 87.1 L235.5 87.1 Z" fill="none" stroke="#00e600" stroke-width="0.9"/>
<path d="M242.0 93.3 L245.3 86.7 L238.7 86.7 Z" fill="none" stroke="#00e600" stroke-width="0.9"/>
<path d="M244.4 92.4 L247.7 85.8 L241.1 85.8 Z" fill="none" stroke="#00e600" stroke-width="0.9"/>
<path d="M247.7 91.7 L251.0 85.1 L244.4 85.1 Z" fill="none" stroke="#00e600" stroke-width="0.9"/>
<path d="M250.2 91.6 L253.5 85.0 L246.9 85.0 Z" fill="none" stroke="#00e600" stroke-width="0.9"/>
<path d="M253.7 90.5 L257.0 83.9 L250.4 83.9 Z" fill="none" stroke="#00e600" stroke-width="0.9"/>
<path d="M256.2 88.7 L259.5 82.1 L252.9 82.1 Z" fill="none" stroke="#00e600" stroke-width="0.9"/>
<path d="M258.7 88.7 L262.0 82.1 L255.4 82.1 Z" fill="none" stroke="#00e600" stroke-width="0.9"/>
<path d="M261.4 86.8 L264.7 80.2 L258.1 80.2 Z" fill="none" stroke="#00e600" stroke-width="0.9"/>
<path d="M264.4 87.1 L267.7 80.5 L261.1 80.5 Z" fill="none" stroke="#00e600" stroke-width="0.9"/>
<path d="M268.0 85.0 L271.3 78.4 L264.7 78.4 Z" fill="none" stroke="#00e600" stroke-width="0.9"/>
<path d="M270.6 85.2 L273.9 78.6 L267.3 78.6 Z" fill="none" stroke="#00e600" stroke-width="0.9"/>
<path d="M273.8 83.9 L277.1 77.3 L270.5 77.3 Z" fill="none" stroke="#00e600" stroke-width="0.9"/>
<path d="M276.3 82.1 L279.6 75.5 L273.0 75.5 Z" fill="none" stroke="#00e600" stroke-width="0.9"/>
<path d="M278.2 81.4 L281.5 74.8 L274.9 74.8 Z" fill="none" stroke="#00e600" stroke-width="0.9"/>
</g>
<g id="flow">
<circle cx="126.7" cy="74.8" r="3.2" fill="none" stroke="#ff1a1a" stroke-width="0.9"/>
<circle cx="127.8" cy="80.1" r="3.3" fill="none" stroke="#ff1a1a" stroke-width="0.9"/>
<circle cx="132.6" cy="80.6" r="3.3" fill="none" stroke="#ff1a1a" stroke-width="0.9"/>
<circle cx="129.5" cy="82.4" r="3.3" fill="none" stroke="#ff1a1a" stroke-width="0.9"/>
<circle cx="131.8" cy="83.6" r="3.3" fill="none" stroke="#ff1a1a" stroke-width="0.9"/>
<circle cx="128.0" cy="84.3" r="3.3" fill="none" stroke="#ff1a1a" stroke-width="0.9"/>
<circle cx="129.9" cy="84.6" r="3.4" fill="none" stroke="#ff1a1a" stroke-width="0.9"/>
<circle cx="132.2" cy="85.1" r="3.4" fill="none" stroke="#ff1a1a" stroke-width="0.9"/>
<circle cx="131.7" cy="85.6" r="3.4" fill="none" stroke="#ff1a1a" stroke-width="0.9"/>
<circle cx="132.0" cy="85.6" r="3.4" fill="none" stroke="#ff1a1a" stroke-width="0.9"/>
<circle cx="132.1" cy="87.0" r="3.4" fill="none" stroke="#ff1a1a" stroke-width="0.9"/>
<circle cx="129.7" cy="87.1" r="3.4" fill="none" stroke="#ff1a1a" stroke-width="0.9"/>
<circle cx="132.5" cy="87.8" r="3.4" fill="none" stroke="#ff1a1a" stroke-width="0.9"/>
<circle cx="128.9" cy="88.0" r="3.4" fill="none" stroke="#ff1a1a" stroke-width="0.9"/>
<circle cx="129.3" cy="88.6" r="3.4" fill="none" stroke="#ff1a1a" stroke-width="0.9"/>
<circle cx="128.9" cy="88.6" r="3.4" fill="none" stroke="#ff1a1a" stroke-width="0.9"/>
<circle cx="129.1" cy="89.8" r="3.4" fill="none" stroke="#ff1a1a" stroke-width="0.9"/>
<circle cx="129.7" cy="90.3" r="3.4" fill="none" stroke="#ff1a1a" stroke-width="0.9"/>
<circle cx="129.6" cy="91.0" r="3.4" fill="none" stroke="#ff1a1a" stroke-width="0.9"/>
<circle cx="128.8" cy="90.8" r="3.4" fill="none" stroke="#ff1a1a" stroke-width="0.9"/>
<circle cx="127.6" cy="91.8" r="3.4" fill="none" stroke="#ff1a1a" stroke-width="0.9"/>
<circle cx="127.5" cy="92.2" r="3.4" fill="none" stroke="#ff1a1a" stroke-width="0.9"/>
<circle cx="131.6" cy="92.7" r="3.4" fill="none" stroke="#ff1a1a" stroke-width="0.9"/>
<circle cx="131.0" cy="93.4" r="3.4" fill="none" stroke="#ff1a1a" stroke-width="0.9"/>
<circle cx="128.0" cy="94.3" r="3.4" fill="none" stroke="#ff1a1a" stroke-width="0.9"/>
<circle cx="130.8" cy="94.0" r="3.4" fill="none" stroke="#ff1a1a" stroke-width="0.9"/>
<circle cx="134.7" cy="94.9" r="3.4" fill="none" stroke="#ff1a1a" stroke-width="0.9"/>
<circle cx="131.6" cy="95.2" r="3.4" fill="none" stroke="#ff1a1a" stroke-width="0.9"/>
<circle cx="136.2" cy="95.8" r="3.4" fill="none" stroke="#ff1a1a" stroke-width="0.9"/>
<circle cx="134.8" cy="96.2" r="3.4" fill="none" stroke="#ff1a1a" stroke-width="0.9"/>
<circle cx="133.3" cy="96.9" r="3.4" fill="none" stroke="#ff1a1a" stroke-width="0.9"/>
<circle cx="130.6" cy="96.6" r="3.4" fill="none" stroke="#ff1a1a" stroke-width="0.9"/>
<circle cx="129.1" cy="97.6" r="3.4" fill="none" stroke="#ff1a1a" stroke-width="0.9"/>
<circle cx="134.7" cy="97.8" r="3.4" fill="none" stroke="#ff1a1a" stroke-width="0.9"/>
<circle cx="129.9" cy="98.6" r="3.4" fill="none" stroke="#ff1a1a" stroke-width="0.9"/>
<circle cx="136.1" cy="99.4" r="3.4" fill="none" stroke="#ff1a1a" stroke-width="0.9"/>
<circle cx="135.0" cy="99.8" r="3.4" fill="none" stroke="#ff1a1a" stroke-width="0.9"/>
<circle cx="131.1" cy="99.8" r="3.4" fill="none" stroke="#ff1a1a" stroke-width="0.9"/>
<circle cx="132.5" cy="94.3" r="3.4" fill="none" stroke="#ff1a1a" stroke-width="0.9"/>
<circle cx="132.5" cy="95.0" r="3.4" fill="none" stroke="#ff1a1a" stroke-width="0.9"/>
<circle cx="133.7" cy="101.3" r="3.4" fill="none" stroke="#ff1a1a" stroke-width="0.9"/>
<circle cx="133.3" cy="96.5" r="3.4" fill="none" stroke="#ff1a1a" stroke-width="0.9"/>
<circle cx="134.5" cy="98.6" r="3.4" fill="none" stroke="#ff1a1a" stroke-width="0.9"/>
<circle cx="134.0" cy="96.6" r="3.4" fill="none" stroke="#ff1a1a" stroke-width="0.9"/>
<circle cx="134.8" cy="100.4" r="3.4" fill="none" stroke="#ff1a1a" stroke-width="0.9"/>
<circle cx="134.9" cy="98.7" r="3.4" fill="none" stroke="#ff1a1a" stroke-width="0.9"/>
<circle cx="135.7" cy="98.0" r="3.4" fill="none" stroke="#ff1a1a" stroke-width="0.9"/>
<circle cx="135.5" cy="98.6" r="3.4" fill="none" stroke="#ff1a1a" stroke-width="0.9"/>
<circle cx="136.4" cy="98.9" r="3.4" fill="none" stroke="#ff1a1a" stroke-width="0.9"/>
<circle cx="136.1" cy="100.6" r="3.4" fill="none" stroke="#ff1a1a" stroke-width="0.9"/>
<circle cx="137.1" cy="103.0" r="3.4" fill="none" stroke="#ff1a1a" stroke-width="0.9"/>
<circle cx="137.3" cy="104.0" r="3.4" fill="none" stroke="#ff1a1a" stroke-width="0.9"/>
<circle cx="138.2" cy="104.1" r="3.4" fill="none" stroke="#ff1a1a" stroke-width="0.9"/>
<circle cx="138.4" cy="102.2" r="3.4" fill="none" stroke="#ff1a1a" stroke-width="0.9"/>
<circle cx="138.8" cy="106.0" r="3.4" fill="none" stroke="#ff1a1a" stroke-width="0.9"/>
<circle cx="138.6" cy="104.5" r="3.4" fill="none" stroke="#ff1a1a" stroke-width="0.9"/>
<circle cx="139.8" cy="101.2" r="3.4" fill="none" stroke="#ff1a1a" stroke-width="0.9"/>
<circle cx="140.0" cy="105.8" r="3.4" fill="none" stroke="#ff1a1a" stroke-width="0.9"/>
<circle cx="140.6" cy="105.2" r="3.4" fill="none" stroke="#ff1a1a" stroke-width="0.9"/>
<circle cx="140.7" cy="102.1" r="3.4" fill="none" stroke="#ff1a1a" stroke-width="0.9"/>
<circle cx="141.3" cy="104.3" r="3.4" fill="none" stroke="#ff1a1a" stroke-width="0.9"/>
<circle cx="141.6" cy="105.8" r="3.4" fill="none" stroke="#ff1a1a" stroke-width="0.9"/>
<circle cx="142.4" cy="104.8" r="3.4" fill="none" stroke="#ff1a1a" stroke-width="0.9"/>
<circle cx="142.4" cy="105.3" r="3.4" fill="none" stroke="#ff1a1a" stroke-width="0.9"/>
<circle cx="143.1" cy="103.2" r="3.4" fill="none" stroke="#ff1a1a" stroke-width="0.9"/>
<circle cx="142.5" cy="102.7" r="3.4" fill="none" stroke="#ff1a1a" stroke-width="0.9"/>
<circle cx="143.6" cy="102.8" r="3.4" fill="none" stroke="#ff1a1a" stroke-width="0.9"/>
<circle cx="144.0" cy="105.0" r="3.4" fill="none" stroke="#ff1a1a" stroke-width="0.9"/>
<circle cx="144.6" cy="105.5" r="3.4" fill="none" stroke="#ff1a1a" stroke-width="0.9"/>
<circle cx="144.6" cy="104.8" r="3.4" fill="none" stroke="#ff1a1a" stroke-width="0.9"/>
<circle cx="144.9" cy="106.4" r="3.4" fill="none" stroke="#ff1a1a" stroke-width="0.9"/>
<circle cx="145.5" cy="105.0" r="3.4" fill="none" stroke="#ff1a1a" stroke-width="0.9"/>
<circle cx="146.1" cy="105.9" r="3.4" fill="none" stroke="#ff1a1a" stroke-width="0.9"/>
<circle cx="145.8" cy="106.3" r="3.4" fill="none" stroke="#ff1a1a" stroke-width="0.9"/>
<circle cx="146.7" cy="103.3" r="3.4" fill="none" stroke="#ff1a1a" stroke-width="0.9"/>
<circle cx="146.7" cy="106.3" r="3.4" fill="none" stroke="#ff1a1a" stroke-width="0.9"/>
<circle cx="147.5" cy="106.4" r="3.4" fill="none" stroke="#ff1a1a" stroke-width="0.9"/>
<circle cx="148.1" cy="105.3" r="3.4" fill="none" stroke="#ff1a1a" stroke-width="0.9"/>
<circle cx="148.4" cy="105.3" r="3.4" fill="none" stroke="#ff1a1a" stroke-width="0.9"/>
<circle cx="148.6" cy="106.6" r="3.4" fill="none" stroke="#ff1a1a" stroke-width="0.9"/>
<circle cx="149.0" cy="106.4" r="3.5" fill="none" stroke="#ff1a1a" stroke-width="0.9"/>
<circle cx="152.2" cy="106.6" r="3.5" fill="none" stroke="#ff1a1a" stroke-width="0.9"/>
<circle cx="155.4" cy="105.7" r="3.5" fill="none" stroke="#ff1a1a" stroke-width="0.9"/>
<circle cx="158.6" cy="105.7" r="3.5" fill="none" stroke="#ff1a1a" stroke-width="0.9"/>
<circle cx="161.8" cy="105.7" r="3.5" fill="none" stroke="#ff1a1a" stroke-width="0.9"/>
<circle cx="165.0" cy="106.1" r="3.5" fill="none" stroke="#ff1a1a" stroke-width="0.9"/>
<circle cx="168.2" cy="105.3" r="3.5" fill="none" stroke="#ff1a1a" stroke-width="0.9"/>
<circle cx="171.4" cy="105.3" r="3.5" fill="none" stroke="#ff1a1a" stroke-width="0.9"/>
<circle cx="174.6" cy="104.2" r="3.5" fill="none" stroke="#ff1a1a" stroke-width="0.9"/>
<circle cx="177.8" cy="103.9" r="3.5" fill="none" stroke="#ff1a1a" stroke-width="0.9"/>
<circle cx="181.0" cy="103.8" r="3.5" fill="none" stroke="#ff1a1a" stroke-width="0.9"/>
<circle cx="184.2" cy="104.0" r="3.5" fill="none" stroke="#ff1a1a" stroke-width="0.9"/>
<circle cx="210.9" cy="98.5" r="3.6" fill="none" stroke="#ff1a1a" stroke-width="0.9"/>
<circle cx="198.9" cy="100.6" r="3.6" fill="none" stroke="#ff1a1a" stroke-width="0.9"/>
<circle cx="188.8" cy="102.2" r="3.6" fill="none" stroke="#ff1a1a" stroke-width="0.9"/>
<circle cx="188.5" cy="102.8" r="3.6" fill="none" stroke="#ff1a1a" stroke-width="0.9"/>
<circle cx="188.6" cy="102.9" r="3.6" fill="none" stroke="#ff1a1a" stroke-width="0.9"/>
<circle cx="180.2" cy="102.9" r="3.6" fill="none" stroke="#ff1a1a" stroke-width="0.9"/>
<circle cx="179.7" cy="104.0" r="3.6" fill="none" stroke="#ff1a1a" stroke-width="0.9"/>
<circle cx="180.2" cy="103.5" r="3.6" fill="none" stroke="#ff1a1a" stroke-width="0.9"/>
<circle cx="171.4" cy="104.0" r="3.6" fill="none" stroke="#ff1a1a" stroke-width="0.9"/>
<circle cx="172.1" cy="104.0" r="3.6" fill="none" stroke="#ff1a1a" stroke-width="0.9"/>
<circle cx="171.7" cy="103.9" r="3.6" fill="none" stroke="#ff1a1a" stroke-width="0.9"/>
<circle cx="164.3" cy="105.7" r="3.6" fill="none" stroke="#ff1a1a" stroke-width="0.9"/>
<circle cx="163.9" cy="105.5" r="3.6" fill="none" stroke="#ff1a1a" stroke-width="0.9"/>
<circle cx="164.3" cy="105.6" r="3.6" fill="none" stroke="#ff1a1a" stroke-width="0.9"/>
<circle cx="157.9" cy="105.1" r="3.6" fill="none" stroke="#ff1a1a" stroke-width="0.9"/>
<circle cx="158.1" cy="105.4" r="3.6" fill="none" stroke="#ff1a1a" stroke-width="0.9"/>
<circle cx="157.2" cy="104.8" r="3.6" fill="none" stroke="#ff1a1a" stroke-width="0.9"/>
<circle cx="151.7" cy="105.5" r="3.6" fill="none" stroke="#ff1a1a" stroke-width="0.9"/>
<circle cx="151.5" cy="105.1" r="3.6" fill="none" stroke="#ff1a1a" stroke-width="0.9"/>
<circle cx="151.5" cy="105.3" r="3.6" fill="none" stroke="#ff1a1a" stroke-width="0.9"/>
</g>
<g id="shock">
<rect x="87.4" y="170.5" width="5.1" height="5.1" fill="none" stroke="#ff8c1a" stroke-width="0.9"/>
<rect x="96.4" y="165.2" width="5.1" height="5.1" fill="none" stroke="#ff8c1a" stroke-width="0.9"/>
<rect x="109.5" y="157.0" width="5.1" height="5.1" fill="none" stroke="#ff8c1a" stroke-width="0.9"/>
<rect x="119.0" y="148.5" width="5.1" height="5.1" fill="none" stroke="#ff8c1a" stroke-width="0.9"/>
<rect x="129.8" y="138.8" width="5.1" height="5.1" fill="none" stroke="#ff8c1a" stroke-width="0.9"/>
<rect x="142.4" y="133.5" width="5.1" height="5.1" fill="none" stroke="#ff8c1a" stroke-width="0.9"/>
<rect x="157.4" y="128.1" width="5.1" height="5.1" fill="none" stroke="#ff8c1a" stroke-width="0.9"/>
<rect x="239.6" y="95.4" width="5.1" height="5.1" fill="none" stroke="#ff8c1a" stroke-width="0.9"/>
<rect x="256.0" y="80.7" width="5.1" height="5.1" fill="none" stroke="#ff8c1a" stroke-width="0.9"/>
<rect x="255.9" y="84.7" width="5.1" height="5.1" fill="none" stroke="#ff8c1a" stroke-width="0.9"/>
<rect x="254.6" y="85.1" width="5.1" height="5.1" fill="none" stroke="#ff8c1a" stroke-width="0.9"/>
<rect x="255.8" y="85.0" width="5.1" height="5.1" fill="none" stroke="#ff8c1a" stroke-width="0.9"/>
<rect x="254.9" y="82.4" width="5.1" height="5.1" fill="none" stroke="#ff8c1a" stroke-width="0.9"/>
<rect x="255.1" y="85.4" width="5.1" height="5.1" fill="none" stroke="#ff8c1a" stroke-width="0.9"/>
<rect x="255.5" y="82.4" width="5.1" height="5.1" fill="none" stroke="#ff8c1a" stroke-width="0.9"/>
<rect x="255.2" y="82.0" width="5.1" height="5.1" fill="none" stroke="#ff8c1a" stroke-width="0.9"/>
<rect x="254.4" y="81.1" width="5.1" height="5.1" fill="none" stroke="#ff8c1a" stroke-width="0.9"/>
<rect x="256.0" y="82.0" width="5.1" height="5.1" fill="none" stroke="#ff8c1a" stroke-width="0.9"/>
<rect x="256.2" y="81.8" width="5.1" height="5.1" fill="none" stroke="#ff8c1a" stroke-width="0.9"/>
<rect x="254.9" y="83.1" width="5.1" height="5.1" fill="none" stroke="#ff8c1a" stroke-width="0.9"/>
<rect x="254.7" y="82.4" width="5.1" height="5.1" fill="none" stroke="#ff8c1a" stroke-width="0.9"/>
<rect x="256.3" y="84.9" width="5.1" height="5.1" fill="none" stroke="#ff8c1a" stroke-width="0.9"/>
</g>
<g fill="none" stroke-linecap="butt" stroke-linejoin="round">
<path d="M143.2 35.2 L141.2 42.6 M138.4 53.2 L136 61.2 M133.8 68.3 L132.9 74.8" stroke="#111" stroke-width="1.2"/>
<path d="M128.5 71.9C128.7 73.1 129.3 77.0 129.6 79.0C129.9 81.0 130.1 82.3 130.3 84.0C130.5 85.7 130.7 87.5 130.9 89.0C131.1 90.5 131.2 92.0 131.4 93.3C131.6 94.6 131.7 95.7 132.2 97.0C132.7 98.3 133.4 100.0 134.2 101.1C135.0 102.1 135.9 102.7 137.0 103.3C138.1 103.9 139.5 104.3 141.0 104.6C142.5 104.9 144.2 105.1 146.0 105.3C147.8 105.5 149.7 105.6 152.0 105.6C154.3 105.6 157.0 105.6 160.0 105.4C163.0 105.2 166.7 104.9 170.0 104.6C173.3 104.3 177.0 103.9 180.0 103.5C183.0 103.1 184.0 103.0 188.0 102.4C192.0 101.8 198.7 100.9 204.0 99.8C209.3 98.7 214.7 97.3 220.0 96.0C225.3 94.7 230.7 93.2 236.0 91.7C241.3 90.2 246.7 88.5 252.0 86.8C257.3 85.1 263.4 83.2 268.0 81.8C272.6 80.4 277.4 78.9 279.3 78.3" stroke="#000" stroke-width="1.15"/>
<path d="M89.6 109.3C90.7 109.5 93.6 110.3 96.0 110.8C98.4 111.3 101.3 111.8 104.0 112.2C106.7 112.6 109.5 113.0 112.0 113.2C114.5 113.4 116.2 113.5 118.9 113.6C121.6 113.6 124.5 113.7 128.0 113.5C131.5 113.3 135.3 113.0 140.0 112.6C144.7 112.2 150.7 111.8 156.0 111.3C161.3 110.8 166.7 110.0 172.0 109.3C177.3 108.6 182.7 107.7 188.0 106.9C193.3 106.1 198.7 105.4 204.0 104.3C209.3 103.2 214.7 101.6 220.0 100.2C225.3 98.8 230.7 97.5 236.0 96.0C241.3 94.5 246.7 93.0 252.0 91.5C257.3 90.0 263.5 88.4 268.0 87.1C272.5 85.8 277.1 84.4 278.9 83.9" stroke="#f00" stroke-width="1.3"/>
<path d="M89.6 117.9C91.3 118.0 96.3 118.3 100.0 118.5C103.7 118.7 107.8 118.9 112.0 118.9C116.2 118.9 120.3 118.8 125.0 118.6C129.7 118.4 134.8 118.0 140.0 117.5C145.2 117.0 150.7 116.5 156.0 115.9C161.3 115.3 166.7 114.5 172.0 113.7C177.3 112.9 182.7 112.0 188.0 111.0C193.3 110.0 198.7 109.0 204.0 107.9C209.3 106.8 214.7 105.7 220.0 104.4C225.3 103.2 230.7 101.8 236.0 100.4C241.3 99.0 246.7 97.5 252.0 96.0C257.3 94.5 263.5 92.6 268.0 91.2C272.5 89.8 277.1 88.4 278.9 87.8" stroke="#00f" stroke-width="1.3"/>
<path d="M89.6 126.3C91.3 126.3 96.3 126.3 100.0 126.2C103.7 126.1 107.8 126.1 112.0 125.9C116.2 125.7 121.5 125.5 125.0 125.2C128.5 124.9 130.5 124.7 133.0 124.3C135.5 123.9 137.5 123.5 140.0 123.1C142.5 122.7 145.3 122.2 148.0 121.7C150.7 121.2 152.0 120.9 156.0 120.2C160.0 119.5 166.7 118.6 172.0 117.7C177.3 116.8 182.7 115.9 188.0 114.9C193.3 113.9 198.7 113.0 204.0 111.9C209.3 110.8 214.7 109.5 220.0 108.3C225.3 107.0 230.7 105.8 236.0 104.4C241.3 103.1 246.7 101.6 252.0 100.2C257.3 98.8 263.5 97.2 268.0 96.0C272.5 94.8 277.1 93.7 278.9 93.2" stroke="#800080" stroke-width="1.3"/>
</g>
<g stroke="#000" stroke-width="1.15" fill="none">
<rect x="48.4" y="32.9" width="244.7" height="151.1"/>
<path d="M53.40 184.0v-1.7M53.40 32.9v1.7M60.30 184.0v-3.0M60.30 32.9v3.0M67.20 184.0v-1.7M67.20 32.9v1.7M74.10 184.0v-1.7M74.10 32.9v1.7M81.00 184.0v-1.7M81.00 32.9v1.7M87.90 184.0v-1.7M87.90 32.9v1.7M94.80 184.0v-3.0M94.80 32.9v3.0M101.70 184.0v-1.7M101.70 32.9v1.7M108.60 184.0v-1.7M108.60 32.9v1.7M115.50 184.0v-1.7M115.50 32.9v1.7M122.40 184.0v-1.7M122.40 32.9v1.7M129.30 184.0v-3.0M129.30 32.9v3.0M136.20 184.0v-1.7M136.20 32.9v1.7M143.10 184.0v-1.7M143.10 32.9v1.7M150.00 184.0v-1.7M150.00 32.9v1.7M156.90 184.0v-1.7M156.90 32.9v1.7M163.80 184.0v-3.0M163.80 32.9v3.0M170.70 184.0v-1.7M170.70 32.9v1.7M177.60 184.0v-1.7M177.60 32.9v1.7M184.50 184.0v-1.7M184.50 32.9v1.7M191.40 184.0v-1.7M191.40 32.9v1.7M198.30 184.0v-3.0M198.30 32.9v3.0M205.20 184.0v-1.7M205.20 32.9v1.7M212.10 184.0v-1.7M212.10 32.9v1.7M219.00 184.0v-1.7M219.00 32.9v1.7M225.90 184.0v-1.7M225.90 32.9v1.7M232.80 184.0v-3.0M232.80 32.9v3.0M239.70 184.0v-1.7M239.70 32.9v1.7M246.60 184.0v-1.7M246.60 32.9v1.7M253.50 184.0v-1.7M253.50 32.9v1.7M260.40 184.0v-1.7M260.40 32.9v1.7M267.30 184.0v-3.0M267.30 32.9v3.0M274.20 184.0v-1.7M274.20 32.9v1.7M281.10 184.0v-1.7M281.10 32.9v1.7M288.00 184.0v-1.7M288.00 32.9v1.7M48.4 181.25h3.0M293.1 181.25h-3.0M48.4 174.37h1.7M293.1 174.37h-1.7M48.4 167.49h1.7M293.1 167.49h-1.7M48.4 160.61h1.7M293.1 160.61h-1.7M48.4 153.73h1.7M293.1 153.73h-1.7M48.4 146.85h3.0M293.1 146.85h-3.0M48.4 139.97h1.7M293.1 139.97h-1.7M48.4 133.09h1.7M293.1 133.09h-1.7M48.4 126.21h1.7M293.1 126.21h-1.7M48.4 119.33h1.7M293.1 119.33h-1.7M48.4 112.45h3.0M293.1 112.45h-3.0M48.4 105.57h1.7M293.1 105.57h-1.7M48.4 98.69h1.7M293.1 98.69h-1.7M48.4 91.81h1.7M293.1 91.81h-1.7M48.4 84.93h1.7M293.1 84.93h-1.7M48.4 78.05h3.0M293.1 78.05h-3.0M48.4 71.17h1.7M293.1 71.17h-1.7M48.4 64.29h1.7M293.1 64.29h-1.7M48.4 57.41h1.7M293.1 57.41h-1.7M48.4 50.53h1.7M293.1 50.53h-1.7M48.4 43.65h3.0M293.1 43.65h-3.0M48.4 36.77h1.7M293.1 36.77h-1.7" stroke-width="1.1"/>
</g>
<text x="60.3" y="197.9" text-anchor="middle">0.5</text>
<text x="94.8" y="197.9" text-anchor="middle">1.0</text>
<text x="129.3" y="197.9" text-anchor="middle">1.5</text>
<text x="163.8" y="197.9" text-anchor="middle">2.0</text>
<text x="198.3" y="197.9" text-anchor="middle">2.5</text>
<text x="232.8" y="197.9" text-anchor="middle">3.0</text>
<text x="267.3" y="197.9" text-anchor="middle">3.5</text>
<text x="46.4" y="185.2" text-anchor="end">0</text>
<text x="46.4" y="150.8" text-anchor="end">5</text>
<text x="46.4" y="116.5" text-anchor="end">10</text>
<text x="46.4" y="82.0" text-anchor="end">15</text>
<text x="46.4" y="47.7" text-anchor="end">20</text>
<text x="171.3" y="216.4" text-anchor="middle">1000 / <tspan font-style="italic">T</tspan> (K)</text>
<text transform="translate(24.4 108.7) rotate(-90)" text-anchor="middle">pK<tspan font-size="8.6px" dy="2.9">w</tspan></text>
<path d="M309.4 2.2 L312.4 8.3 L306.3 8.3 Z" fill="none" stroke="#333" stroke-width="0.8"/>
<path d="M309.4 28.6 L312.5 31.8 L309.4 34.9 L306.2 31.8 Z" fill="none" stroke="#1c1cff" stroke-width="0.9"/>
<path d="M309.4 62.0 L312.7 55.4 L306.1 55.4 Z" fill="none" stroke="#00e600" stroke-width="0.9"/>
<circle cx="309.2" cy="85.5" r="3.85" fill="none" stroke="#ff1a1a" stroke-width="0.9"/>
<rect x="306.4" y="108.5" width="5.2" height="5.2" fill="none" stroke="#ff8c1a" stroke-width="0.9"/>
<text x="323.4" y="9.3">Conductivity (Static)</text>
<text x="323.4" y="36.1">Potentiometry</text>
<text x="323.4" y="62.9">Calorimetry</text>
<text x="323.4" y="89.6">Conductivity (Flow)</text>
<text x="323.4" y="116.4">Shock Wave (HP)</text>
<path d="M302.5 138.5H310M320.3 138.5H327.8" stroke="#000" stroke-width="1.15"/>
<text x="339.3" y="143.2">Fit, <tspan font-style="italic">p</tspan><tspan font-size="8.6px" dy="2.9">sat</tspan><tspan dy="-2.9">(vap)</tspan></text>
<path d="M302.5 165.9H332" stroke="#000" stroke-width="1.3"/>
<text x="339.3" y="170.0">Fit, 25 MPa</text>
<path d="M302.5 192.8H332" stroke="#f00" stroke-width="1.3"/>
<text x="339.3" y="196.8">Fit, 250 MPa</text>
<path d="M302.5 219.4H332" stroke="#00f" stroke-width="1.3"/>
<text x="339.3" y="223.5">Fit, 500 MPa</text>
<path d="M302.5 246.1H332" stroke="#800080" stroke-width="1.3"/>
<text x="339.3" y="250.3">Fit, 1000 MPa</text>
</svg></body></html>
